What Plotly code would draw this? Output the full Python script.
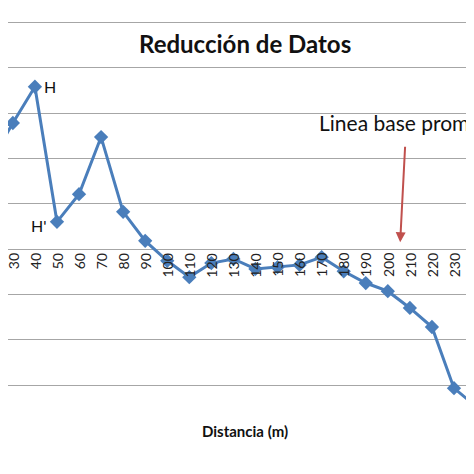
import plotly.graph_objects as go

distancia = [20, 30, 40, 50, 60, 70, 80, 90, 100, 110, 120, 130, 140, 150, 160, 170, 180, 190, 200, 210, 220, 230, 240]
valores = [1.93, 2.78, 3.58, 0.60, 1.21, 2.47, 0.82, 0.18, -0.26, -0.62, -0.31, -0.22, -0.44, -0.40, -0.35, -0.18, -0.49, -0.75, -0.93, -1.30, -1.72, -3.07, -3.47]
tick_labels = [str(d) for d in distancia]

FONT = "Lato, 'Open Sans', sans-serif"
fig = go.Figure()
fig.add_trace(go.Scatter(x=distancia, y=valores, mode="lines+markers",
                         line=dict(color="#4A7EBB", width=3),
                         marker=dict(symbol="diamond", size=11, color="#4A7EBB"),
                         cliponaxis=False, showlegend=False))

for d, t in zip(distancia, tick_labels):
    fig.add_annotation(x=d, y=-0.05, text=t, showarrow=False, textangle=-90,
                       yanchor="top", xanchor="center", font=dict(size=14, color="#222"))

fig.add_annotation(x=43, y=3.58, text="H", showarrow=False, xanchor="left", font=dict(size=16, color="#111"))
fig.add_annotation(x=46, y=0.52, text="H'", showarrow=False, xanchor="right", font=dict(size=16, color="#111"))
fig.add_annotation(xref="paper", x=1.0, y=2.79, text="Linea base prome", showarrow=False, xanchor="right",
                   font=dict(size=21, color="#111"))
fig.add_annotation(x=205.6, y=0.15, ax=5, ay=-97, text="", showarrow=True, arrowhead=2,
                   arrowsize=1, arrowwidth=2, arrowcolor="#C0504D")

fig.update_layout(
    width=474, height=474, margin=dict(l=0, r=0, t=13, b=53),
    paper_bgcolor="white", plot_bgcolor="white",
    font=dict(family=FONT),
    xaxis=dict(range=[27.8, 242.7], showticklabels=False, showgrid=False, zeroline=False),
    yaxis=dict(range=[-3.97, 5.03], dtick=1, showticklabels=False, showgrid=True,
               gridcolor="#A6A6A6", gridwidth=1, zeroline=True, zerolinecolor="#A6A6A6",
               zerolinewidth=1),
    annotations=list(fig.layout.annotations) + [
        dict(xref="paper", yref="paper", x=0.5, y=1.0, yshift=-6, yanchor="top",
             text="<b>Reducción de Datos</b>",
             showarrow=False, bgcolor="white", font=dict(size=24, color="#111")),
        dict(xref="paper", yref="paper", x=0.5, y=0, yshift=-13, text="<b>Distancia (m)</b>",
             showarrow=False, font=dict(size=15, color="#111")),
    ],
)
fig.write_html("out.html")
